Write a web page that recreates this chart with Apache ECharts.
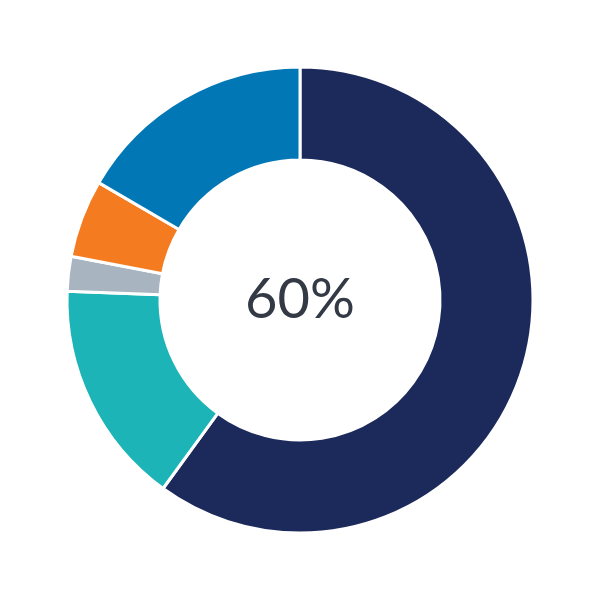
<!DOCTYPE html>
<html>
<head>
<meta charset="utf-8">
<script src="https://cdn.jsdelivr.net/npm/echarts@6/dist/echarts.min.js"></script>
<style>
  html, body { margin: 0; padding: 0; background: #fff; }
  #main { width: 600px; height: 600px; }
</style>
</head>
<body>
<div id="main"></div>
<script>
var names = ['A', 'B', 'C', 'D', 'E'];
var values = [60, 15.6, 2.4, 5.4, 16.6];
var colors = ['#1b2a5b', '#1cb4b6', '#a9b4c1', '#f47b20', '#0277b5'];
var centerLabel = '60%';

var chart = echarts.init(document.getElementById('main'));
var option = {
  animation: false,
  title: {
    text: centerLabel,
    left: 'center',
    top: 'middle',
    textStyle: {
      color: '#333a45',
      fontFamily: 'Lato',
      fontWeight: 'normal',
      fontSize: 56
    }
  },
  series: [{
    type: 'pie',
    center: ['50%', '50%'],
    radius: [140, 233],
    startAngle: 90,
    clockwise: true,
    label: { show: false },
    labelLine: { show: false },
    itemStyle: {
      borderColor: '#fff',
      borderWidth: 3
    },
    data: names.map(function (n, i) {
      return { name: n, value: values[i], itemStyle: { color: colors[i] } };
    })
  }]
};
chart.setOption(option);
</script>
</body>
</html>
